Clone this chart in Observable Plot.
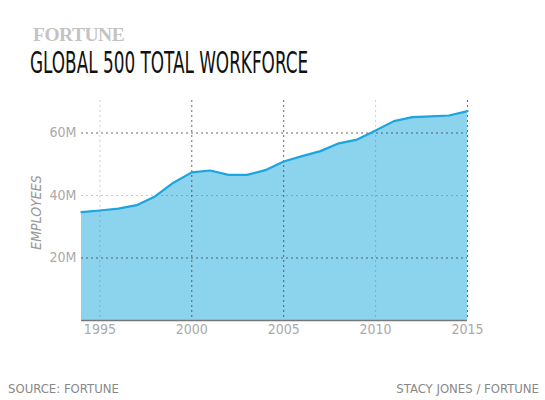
<!DOCTYPE html>
<html>
<head>
<meta charset="utf-8">
<script src="https://cdn.jsdelivr.net/npm/d3@7"></script>
<script src="https://cdn.jsdelivr.net/npm/@observablehq/plot@0.6"></script>
<style>
  body { margin: 0; background: #fff; width: 545px; height: 400px; position: relative; overflow: hidden;
         font-family: "DejaVu Sans Condensed", "Liberation Sans Narrow", sans-serif; }
  #logo { position: absolute; left: 33px; top: 24px; font-family: "Liberation Serif", serif; font-weight: bold;
          font-size: 19.5px; color: #c3c3c3; letter-spacing: -0.5px; }
  #title { position: absolute; left: 30px; top: 45px; font-size: 30px; color: #111; white-space: nowrap;
           transform: scaleX(0.625); transform-origin: left top; }
  #chart { position: absolute; left: 0; top: 85px; }
  .foot { position: absolute; top: 381px; font-size: 13px; color: #888; }
</style>
</head>
<body>
<div id="logo">FORTUNE</div>
<div id="title">GLOBAL 500 TOTAL WORKFORCE</div>
<div id="chart"></div>
<div class="foot" style="left:8px">SOURCE: FORTUNE</div>
<div class="foot" style="right:6px">STACY JONES / FORTUNE</div>
<script>
const YEARS = [1994, 1995, 1996, 1997, 1998, 1999, 2000, 2001, 2002, 2003, 2004,
               2005, 2006, 2007, 2008, 2009, 2010, 2011, 2012, 2013, 2014, 2015];
// millions of employees
const EMPLOYEES_M = [34.7, 35.2, 35.8, 36.9, 39.7, 44.1, 47.4, 48.0, 46.6, 46.6, 48.1,
                     50.9, 52.6, 54.2, 56.7, 57.9, 60.8, 63.8, 65.1, 65.3, 65.6, 67.0];
const X_TICKS = [1995, 2000, 2005, 2010, 2015];
const Y_TICKS = [20, 40, 60];

// the reference draws a few gridlines paler than the rest
const FAINT_X = [1995, 2010];
const FAINT_Y = [40];

const rows = YEARS.map((year, i) => ({ year, value: EMPLOYEES_M[i] }));

const plot = Plot.plot({
  width: 545,
  height: 260,
  marginLeft: 81,
  marginRight: 78,
  marginTop: 15,
  marginBottom: 25,
  x: { domain: [1994, 2015], ticks: X_TICKS, tickFormat: "d", tickSize: 0, tickPadding: 4, label: null },
  y: { domain: [0, 70.4], ticks: Y_TICKS, tickFormat: d => `${d}M`, tickSize: 0, tickPadding: 5, label: null },
  style: {
    fontFamily: '"DejaVu Sans Condensed", "Liberation Sans Narrow", sans-serif',
    fontSize: 14,
    color: "#aaa",
    background: "transparent",
  },
  marks: [
    Plot.areaY(rows, { x: "year", y: "value", fill: "#8cd4ee" }),
    Plot.ruleX(X_TICKS, {
      stroke: "#444",
      strokeOpacity: d => FAINT_X.includes(d) ? 0.25 : 0.8,
      strokeDasharray: "2 3",
    }),
    Plot.ruleY(Y_TICKS, {
      stroke: "#444",
      strokeOpacity: d => FAINT_Y.includes(d) ? 0.3 : 0.8,
      strokeDasharray: "2 3",
    }),
    Plot.lineY(rows, { x: "year", y: "value", stroke: "#1ca5df", strokeWidth: 2.2 }),
    Plot.ruleY([0], { stroke: "#777", strokeWidth: 1.5 }),
    Plot.text(["EMPLOYEES"], {
      frameAnchor: "left", rotate: -90, dx: -45, dy: 2, textAnchor: "middle",
      fill: "#999", fontSize: 14, fontStyle: "italic",
    }),
  ],
});
document.getElementById("chart").append(plot);
</script>
</body>
</html>
